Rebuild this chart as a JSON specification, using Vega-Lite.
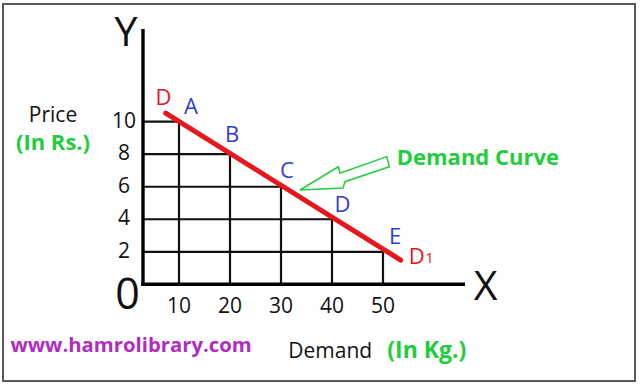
{
  "$schema": "https://vega.github.io/schema/vega-lite/v6.json",
  "width": 632,
  "height": 377,
  "autosize": {"type": "none"},
  "padding": {"left": 3, "top": 4, "right": 5, "bottom": 3},
  "background": "white",
  "config": {"view": {"stroke": "#5a5a5a", "strokeWidth": 2}, "text": {"font": "Open Sans"}},
  "datasets": {
    "points": [
      {"x": 10, "y": 10, "base": 0},
      {"x": 20, "y": 8, "base": 0},
      {"x": 30, "y": 6, "base": 0},
      {"x": 40, "y": 4, "base": 0},
      {"x": 50, "y": 2, "base": 0}
    ]
  },
  "layer": [
    {
      "data": {"name": "points"},
      "mark": {"type": "rule", "color": "#111111", "strokeWidth": 2.2},
      "encoding": {
        "x": {"field": "base", "type": "quantitative", "scale": {"domain": [0, 10, 50], "range": [140, 176, 380], "nice": false, "zero": false}, "axis": null},
        "x2": {"field": "x"},
        "y": {"field": "y", "type": "quantitative", "scale": {"domain": [0, 10], "range": [280.3, 117.7], "nice": false, "zero": false}, "axis": null}
      }
    },
    {
      "data": {"name": "points"},
      "mark": {"type": "rule", "color": "#111111", "strokeWidth": 2.2},
      "encoding": {
        "x": {"field": "x", "type": "quantitative", "scale": {"domain": [0, 10, 50], "range": [140, 176, 380], "nice": false, "zero": false}, "axis": null},
        "y": {"field": "base", "type": "quantitative", "scale": {"domain": [0, 10], "range": [280.3, 117.7], "nice": false, "zero": false}, "axis": null},
        "y2": {"field": "y"}
      }
    },
    {
      "data": {"values": [
        {"x": 0, "y": 0, "x2": 65.75, "y2": 0},
        {"x": 0, "y": 0, "x2": 0, "y2": 15.6}
      ]},
      "mark": {"type": "rule", "color": "#000000", "strokeWidth": 3.4, "strokeCap": "square"},
      "encoding": {
        "x": {"field": "x", "type": "quantitative", "scale": {"domain": [0, 10, 50], "range": [140, 176, 380], "nice": false, "zero": false}, "axis": null},
        "x2": {"field": "x2"},
        "y": {"field": "y", "type": "quantitative", "scale": {"domain": [0, 10], "range": [280.3, 117.7], "nice": false, "zero": false}, "axis": null},
        "y2": {"field": "y2"}
      }
    },
    {
      "data": {"values": [
        {"x": 6.31, "y": 10.52},
        {"x": 53.47, "y": 1.49}
      ]},
      "mark": {"type": "line", "color": "#e8161e", "strokeWidth": 5, "strokeCap": "round"},
      "encoding": {
        "x": {"field": "x", "type": "quantitative", "scale": {"domain": [0, 10, 50], "range": [140, 176, 380], "nice": false, "zero": false}, "axis": null},
        "y": {"field": "y", "type": "quantitative", "scale": {"domain": [0, 10], "range": [280.3, 117.7], "nice": false, "zero": false}, "axis": null}
      }
    },
    {
      "data": {"values": [
        {"i": 0, "x": 33.73, "y": 5.80},
        {"i": 1, "x": 41.24, "y": 7.23},
        {"i": 2, "x": 41.57, "y": 6.83},
        {"i": 3, "x": 50.73, "y": 7.85},
        {"i": 4, "x": 51.24, "y": 7.23},
        {"i": 5, "x": 42.55, "y": 6.31},
        {"i": 6, "x": 42.16, "y": 5.92},
        {"i": 7, "x": 33.73, "y": 5.80}
      ]},
      "mark": {"type": "line", "color": "#22cc3c", "strokeWidth": 1.5, "strokeJoin": "miter"},
      "encoding": {
        "x": {"field": "x", "type": "quantitative", "scale": {"domain": [0, 10, 50], "range": [140, 176, 380], "nice": false, "zero": false}, "axis": null},
        "y": {"field": "y", "type": "quantitative", "scale": {"domain": [0, 10], "range": [280.3, 117.7], "nice": false, "zero": false}, "axis": null},
        "order": {"field": "i", "type": "quantitative"}
      }
    },
    {
      "data": {"values": [
        {"x": 12.35, "y": 10.93, "label": "A"},
        {"x": 20.39, "y": 9.21, "label": "B"},
        {"x": 31.18, "y": 6.97, "label": "C"},
        {"x": 42.06, "y": 4.88, "label": "D"},
        {"x": 52.35, "y": 2.88, "label": "E"}
      ]},
      "mark": {"type": "text", "color": "#2e3ed2", "fontSize": 22, "align": "center", "baseline": "middle"},
      "encoding": {
        "x": {"field": "x", "type": "quantitative", "scale": {"domain": [0, 10, 50], "range": [140, 176, 380], "nice": false, "zero": false}, "axis": null},
        "y": {"field": "y", "type": "quantitative", "scale": {"domain": [0, 10], "range": [280.3, 117.7], "nice": false, "zero": false}, "axis": null},
        "text": {"field": "label"}
      }
    },
    {
      "data": {"values": [
        {"x": 5.69, "y": 11.46, "label": "D"},
        {"x": 56.6, "y": 1.65, "label": "D"}
      ]},
      "mark": {"type": "text", "color": "#e8161e", "fontSize": 22, "align": "center", "baseline": "middle"},
      "encoding": {
        "x": {"field": "x", "type": "quantitative", "scale": {"domain": [0, 10, 50], "range": [140, 176, 380], "nice": false, "zero": false}, "axis": null},
        "y": {"field": "y", "type": "quantitative", "scale": {"domain": [0, 10], "range": [280.3, 117.7], "nice": false, "zero": false}, "axis": null},
        "text": {"field": "label"}
      }
    },
    {
      "data": {"values": [
        {"x": 59.1, "y": 1.33, "label": "1"}
      ]},
      "mark": {"type": "text", "color": "#e8161e", "fontSize": 15, "align": "center", "baseline": "alphabetic"},
      "encoding": {
        "x": {"field": "x", "type": "quantitative", "scale": {"domain": [0, 10, 50], "range": [140, 176, 380], "nice": false, "zero": false}, "axis": null},
        "y": {"field": "y", "type": "quantitative", "scale": {"domain": [0, 10], "range": [280.3, 117.7], "nice": false, "zero": false}, "axis": null},
        "text": {"field": "label"}
      }
    },
    {
      "data": {"values": [
        {"x": -5.3, "y": 10, "label": "10"},
        {"x": -5.3, "y": 8, "label": "8"},
        {"x": -5.3, "y": 6, "label": "6"},
        {"x": -5.3, "y": 4, "label": "4"},
        {"x": -5.3, "y": 2, "label": "2"},
        {"x": 10, "y": -1.37, "label": "10"},
        {"x": 20, "y": -1.37, "label": "20"},
        {"x": 30, "y": -1.37, "label": "30"},
        {"x": 40, "y": -1.37, "label": "40"},
        {"x": 50, "y": -1.37, "label": "50"}
      ]},
      "mark": {"type": "text", "color": "#111111", "fontSize": 21, "align": "center", "baseline": "middle"},
      "encoding": {
        "x": {"field": "x", "type": "quantitative", "scale": {"domain": [0, 10, 50], "range": [140, 176, 380], "nice": false, "zero": false}, "axis": null},
        "y": {"field": "y", "type": "quantitative", "scale": {"domain": [0, 10], "range": [280.3, 117.7], "nice": false, "zero": false}, "axis": null},
        "text": {"field": "label"}
      }
    },
    {
      "data": {"values": [{"x": -4.31, "y": -1.5, "label": "0"}]},
      "mark": {"type": "text", "color": "#111111", "fontSize": 43, "align": "center", "baseline": "alphabetic"},
      "encoding": {
        "x": {"field": "x", "type": "quantitative", "scale": {"domain": [0, 10, 50], "range": [140, 176, 380], "nice": false, "zero": false}, "axis": null},
        "y": {"field": "y", "type": "quantitative", "scale": {"domain": [0, 10], "range": [280.3, 117.7], "nice": false, "zero": false}, "axis": null},
        "text": {"field": "label"}
      }
    },
    {
      "data": {"values": [
        {"x": -4.72, "y": 15.39, "label": "Y"},
        {"x": 70.1, "y": -0.23, "label": "X"}
      ]},
      "mark": {"type": "text", "color": "#111111", "fontSize": 41, "align": "center", "baseline": "middle"},
      "encoding": {
        "x": {"field": "x", "type": "quantitative", "scale": {"domain": [0, 10, 50], "range": [140, 176, 380], "nice": false, "zero": false}, "axis": null},
        "y": {"field": "y", "type": "quantitative", "scale": {"domain": [0, 10], "range": [280.3, 117.7], "nice": false, "zero": false}, "axis": null},
        "text": {"field": "label"}
      }
    },
    {
      "data": {"values": [{"x": -25, "y": 10.0, "label": "Price"}]},
      "mark": {"type": "text", "color": "#111111", "fontSize": 21, "align": "center", "baseline": "alphabetic"},
      "encoding": {
        "x": {"field": "x", "type": "quantitative", "scale": {"domain": [0, 10, 50], "range": [140, 176, 380], "nice": false, "zero": false}, "axis": null},
        "y": {"field": "y", "type": "quantitative", "scale": {"domain": [0, 10], "range": [280.3, 117.7], "nice": false, "zero": false}, "axis": null},
        "text": {"field": "label"}
      }
    },
    {
      "data": {"values": [{"x": -25, "y": 8.29, "label": "(In Rs.)"}]},
      "mark": {"type": "text", "color": "#22cc3c", "fontSize": 22, "fontWeight": "bold", "align": "center", "baseline": "alphabetic"},
      "encoding": {
        "x": {"field": "x", "type": "quantitative", "scale": {"domain": [0, 10, 50], "range": [140, 176, 380], "nice": false, "zero": false}, "axis": null},
        "y": {"field": "y", "type": "quantitative", "scale": {"domain": [0, 10], "range": [280.3, 117.7], "nice": false, "zero": false}, "axis": null},
        "text": {"field": "label"}
      }
    },
    {
      "data": {"values": [{"x": 52.69, "y": 7.34, "label": "Demand Curve"}]},
      "mark": {"type": "text", "color": "#22cc3c", "fontSize": 22, "fontWeight": "bold", "align": "left", "baseline": "alphabetic"},
      "encoding": {
        "x": {"field": "x", "type": "quantitative", "scale": {"domain": [0, 10, 50], "range": [140, 176, 380], "nice": false, "zero": false}, "axis": null},
        "y": {"field": "y", "type": "quantitative", "scale": {"domain": [0, 10], "range": [280.3, 117.7], "nice": false, "zero": false}, "axis": null},
        "text": {"field": "label"}
      }
    },
    {
      "data": {"values": [{"x": 50.84, "y": -4.55, "label": "(In Kg.)"}]},
      "mark": {"type": "text", "color": "#22cc3c", "fontSize": 23, "fontWeight": "bold", "align": "left", "baseline": "alphabetic"},
      "encoding": {
        "x": {"field": "x", "type": "quantitative", "scale": {"domain": [0, 10, 50], "range": [140, 176, 380], "nice": false, "zero": false}, "axis": null},
        "y": {"field": "y", "type": "quantitative", "scale": {"domain": [0, 10], "range": [280.3, 117.7], "nice": false, "zero": false}, "axis": null},
        "text": {"field": "label"}
      }
    },
    {
      "data": {"values": [{"x": 31.43, "y": -4.55, "label": "Demand"}]},
      "mark": {"type": "text", "color": "#111111", "fontSize": 21, "align": "left", "baseline": "alphabetic"},
      "encoding": {
        "x": {"field": "x", "type": "quantitative", "scale": {"domain": [0, 10, 50], "range": [140, 176, 380], "nice": false, "zero": false}, "axis": null},
        "y": {"field": "y", "type": "quantitative", "scale": {"domain": [0, 10], "range": [280.3, 117.7], "nice": false, "zero": false}, "axis": null},
        "text": {"field": "label"}
      }
    },
    {
      "data": {"values": [{"x": -3.33, "y": -4.15, "label": "www.hamrolibrary.com"}]},
      "mark": {"type": "text", "color": "#b02cc0", "fontSize": 20.3, "fontWeight": "bold", "align": "center", "baseline": "alphabetic"},
      "encoding": {
        "x": {"field": "x", "type": "quantitative", "scale": {"domain": [0, 10, 50], "range": [140, 176, 380], "nice": false, "zero": false}, "axis": null},
        "y": {"field": "y", "type": "quantitative", "scale": {"domain": [0, 10], "range": [280.3, 117.7], "nice": false, "zero": false}, "axis": null},
        "text": {"field": "label"}
      }
    }
  ]
}
